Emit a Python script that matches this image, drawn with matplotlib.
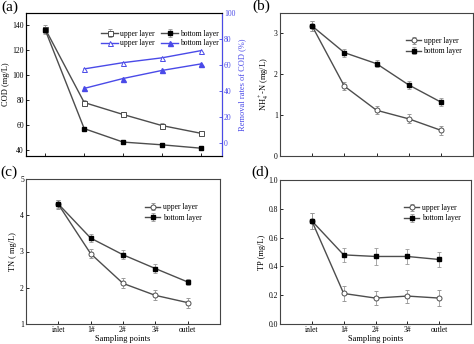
import matplotlib
matplotlib.use("Agg")
import matplotlib.pyplot as plt

plt.rcParams["font.family"] = ["Liberation Serif", "DejaVu Serif"]
plt.rcParams["mathtext.fontset"] = "custom"
plt.rcParams["mathtext.rm"] = "Liberation Serif"
plt.rcParams["mathtext.it"] = "Liberation Serif:italic"

points = ["inlet", "1#", "2#", "3#", "outlet"]
x = list(range(len(points)))

cod_upper = [137, 78, 68.4, 59.5, 53.3]
cod_bottom = [136, 57, 46.2, 44, 41.3]
cod_upper_err = [3, 2, 2, 2, 1.8]
cod_bottom_err = [3, 1.5, 1.5, 1.5, 1.5]
rate_x = [1, 2, 3, 4]
rate_upper = [57, 61.8, 65.5, 71]
rate_bottom = [42, 49.6, 55.8, 60.8]

nh4_upper = [3.18, 1.71, 1.12, 0.91, 0.63]
nh4_bottom = [3.18, 2.53, 2.26, 1.74, 1.32]
nh4_upper_err = [0.12, 0.1, 0.1, 0.11, 0.11]
nh4_bottom_err = [0.12, 0.1, 0.09, 0.1, 0.1]

tn_upper = [4.30, 2.94, 2.12, 1.79, 1.59]
tn_bottom = [4.31, 3.37, 2.91, 2.53, 2.16]
tn_upper_err = [0.13, 0.12, 0.14, 0.14, 0.14]
tn_bottom_err = [0.12, 0.1, 0.13, 0.12, 0.08]

tp_upper = [0.716, 0.212, 0.18, 0.194, 0.18]
tp_bottom = [0.716, 0.48, 0.469, 0.469, 0.448]
tp_upper_err = [0.055, 0.055, 0.05, 0.045, 0.055]
tp_bottom_err = [0.055, 0.05, 0.06, 0.05, 0.052]

W, H = 474, 344
LINE = "#4d4d4d"
BLUE = "#4a4ae8"


def box(left, top, right, bottom):
    return [left / W, (H - bottom) / H, (right - left) / W, (bottom - top) / H]


def style(ax):
    ax.tick_params(direction="in", labelsize=5.5, length=2.5, width=0.6,
                   top=False, right=False, pad=1.5)
    for s in ax.spines.values():
        s.set_linewidth(0.8)
        s.set_color("#444444")


def pair(ax, up, bot, up_err, bot_err, up_marker="o"):
    ax.errorbar(x, up, yerr=up_err, color=LINE, lw=1.0, marker=up_marker, ms=3.6,
                mfc="white", mec=LINE, mew=0.7, ecolor="#999999", elinewidth=0.6,
                capsize=1.5, capthick=0.6, label="upper layer")
    ax.errorbar(x, bot, yerr=bot_err, color=LINE, lw=1.0, marker="s", ms=3.4,
                mfc="black", mec="black", ecolor="#999999", elinewidth=0.6,
                capsize=1.5, capthick=0.6, label="bottom layer")


def panel_tag(px, py, text):
    fig.text(px / W, 1 - py / H, text, fontsize=11, va="top", ha="left")


fig = plt.figure(figsize=(W / 100, H / 100), dpi=100)

# (a) COD with removal rate on a twin axis
ax = fig.add_axes(box(26, 13, 222, 156))
style(ax)
pair(ax, cod_upper, cod_bottom, cod_upper_err, cod_bottom_err, up_marker="s")
ax.set_xlim(-0.5, 4.55)
ax.set_ylim(35, 150)
ax.set_yticks([40, 60, 80, 100, 120, 140])
ax.set_xticks(x)
ax.set_xticklabels([])
ax.set_ylabel("COD (mg/L)", fontsize=6, labelpad=2)
ax2 = ax.twinx()
ax2.plot(rate_x, rate_upper, color=BLUE, lw=1.0, marker="^", ms=3.6,
         mfc="white", mec=BLUE, mew=0.7, label="upper layer")
ax2.plot(rate_x, rate_bottom, color=BLUE, lw=1.0, marker="^", ms=3.6,
         mfc=BLUE, mec=BLUE, label="bottom layer")
ax2.set_ylim(-10, 100)
ax2.set_yticks([0, 20, 40, 60, 80, 100])
ax2.tick_params(direction="in", labelsize=5.5, length=2.5, width=0.6,
                colors=BLUE, pad=1.5)
ax2.spines["right"].set_color(BLUE)
ax2.spines["right"].set_linewidth(0.8)
ax2.set_ylabel("Removal rates of COD (%)", fontsize=6, color=BLUE, labelpad=2)
h1, l1 = ax.get_legend_handles_labels()
h2, l2 = ax2.get_legend_handles_labels()
ax.legend([h1[0], h2[0], h1[1], h2[1]], [l1[0], l2[0], l1[1], l2[1]],
          ncol=2, frameon=False, fontsize=5.5, loc="upper right",
          bbox_to_anchor=(1.02, 0.93), handlelength=2.2, handletextpad=0.3,
          columnspacing=0.8, labelspacing=0.2)
panel_tag(1, 1, "(a)")

# (b) NH4+-N
ax = fig.add_axes(box(280, 13, 473, 156))
style(ax)
pair(ax, nh4_upper, nh4_bottom, nh4_upper_err, nh4_bottom_err)
ax.set_xlim(-1, 5)
ax.set_ylim(0, 3.5)
ax.set_yticks([0, 1, 2, 3])
ax.set_xticks(x)
ax.set_xticklabels([])
ax.set_ylabel("NH$_4^+$-N (mg/L)", fontsize=6, labelpad=2)
ax.legend(frameon=False, fontsize=5.5, loc="upper right",
          bbox_to_anchor=(0.98, 0.88), handlelength=2.0, handletextpad=0.3,
          labelspacing=0.3)
panel_tag(252, 0, "(b)")

# (c) TN
ax = fig.add_axes(box(26, 179, 220, 324))
style(ax)
pair(ax, tn_upper, tn_bottom, tn_upper_err, tn_bottom_err)
ax.set_xlim(-1, 5)
ax.set_ylim(1, 5)
ax.set_yticks([1, 2, 3, 4, 5])
ax.set_xticks(x)
ax.set_xticklabels(points)
ax.set_ylabel("TN ( mg/L)", fontsize=6, labelpad=2)
ax.set_xlabel("Sampling points", fontsize=6, labelpad=1)
ax.legend(frameon=False, fontsize=5.5, loc="upper right",
          bbox_to_anchor=(0.94, 0.88), handlelength=2.0, handletextpad=0.3,
          labelspacing=0.3)
panel_tag(0, 166, "(c)")

# (d) TP
ax = fig.add_axes(box(280, 180, 471, 324))
style(ax)
pair(ax, tp_upper, tp_bottom, tp_upper_err, tp_bottom_err)
ax.set_xlim(-1, 5)
ax.set_ylim(0, 1.0)
ax.set_yticks([0.0, 0.2, 0.4, 0.6, 0.8, 1.0])
ax.set_yticklabels(["0.0", "0.2", "0.4", "0.6", "0.8", "1.0"])
ax.set_xticks(x)
ax.set_xticklabels(points)
ax.set_ylabel("TP (mg/L)", fontsize=6, labelpad=2)
ax.set_xlabel("Sampling points", fontsize=6, labelpad=1)
ax.legend(frameon=False, fontsize=5.5, loc="upper right",
          bbox_to_anchor=(0.98, 0.88), handlelength=2.0, handletextpad=0.3,
          labelspacing=0.3)
panel_tag(251, 166, "(d)")

fig.savefig("out.png", dpi=100)
